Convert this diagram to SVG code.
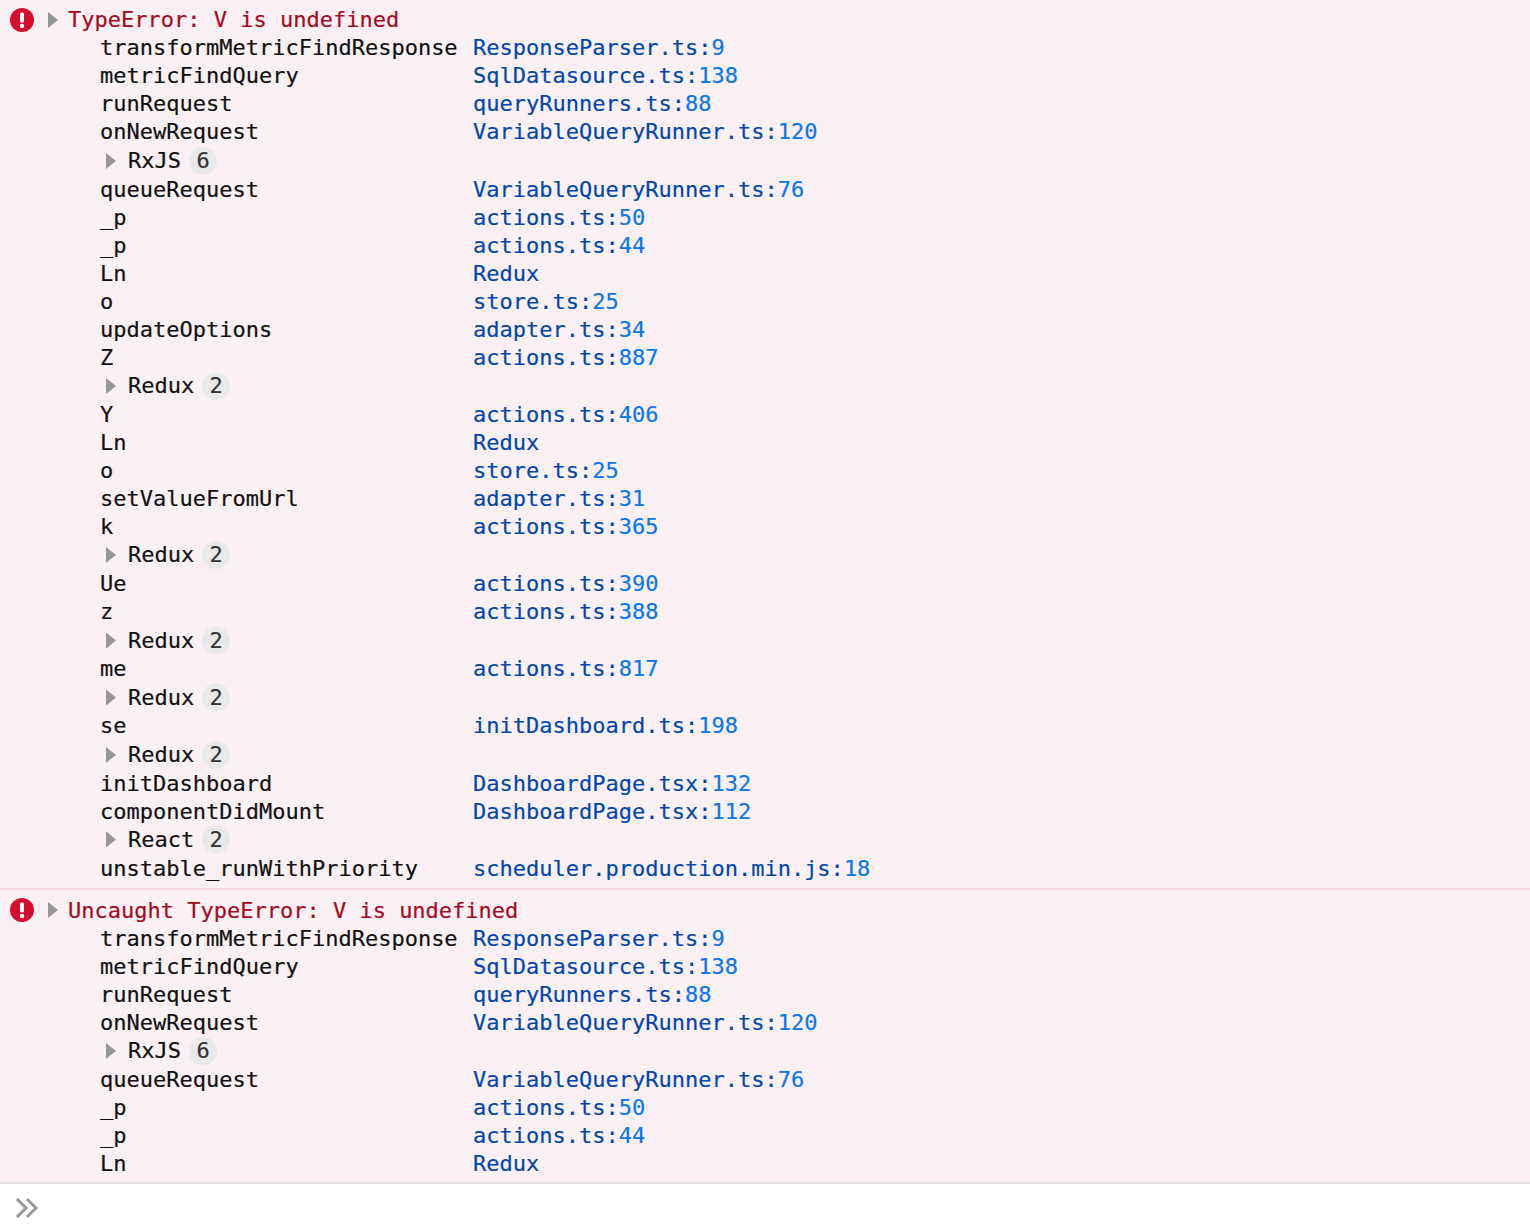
<svg xmlns="http://www.w3.org/2000/svg" width="1530" height="1224" viewBox="0 0 1530 1224">
<style>
text{font-family:"DejaVu Sans Mono","Liberation Mono",monospace;font-size:22px;fill:#111;stroke:#111;stroke-width:.2px}
.e{fill:#a50a22;stroke:#a50a22}
.f{fill:#0047ab;stroke:#0047ab}
.n{fill:#0a78e6;stroke:#0a78e6}
.b{fill:#333;stroke:#333;text-anchor:middle}
.p{fill:#e9e9eb}
.t{fill:#969696}
.i{fill:#d60d2f}
</style>
<defs>
<g id="err"><circle cx="22" cy="0" r="12" class="i"/><rect x="20" y="-7.500" width="4" height="10" rx="1.500" fill="#fff"/><circle cx="22" cy="6" r="2.200" fill="#fff"/><path d="M48-8 L58 0 L48 8Z" class="t"/></g>
<path id="tri" d="M106-8 L116 0 L106 8Z" class="t"/>
</defs>
<rect width="1530" height="1183" fill="#fbf0f4"/>
<rect y="888" width="1530" height="2" fill="#f9d8e0"/>
<rect y="1182" width="1530" height="2" fill="#e2e2e2"/>
<rect y="1184" width="1530" height="40" fill="#fff"/>
<path d="M17 1199 L26 1208 L17 1217 M27 1199 L36 1208 L27 1217" fill="none" stroke="#999" stroke-width="3"/>
<g id="error-1">
<use href="#err" y="20"/>
<text class="e" x="68" y="27">TypeError: V is undefined</text>
<text x="100" y="55">transformMetricFindResponse</text><text x="473" y="55"><tspan class="f">ResponseParser.ts:</tspan><tspan class="n">9</tspan></text>
<text x="100" y="83">metricFindQuery</text><text x="473" y="83"><tspan class="f">SqlDatasource.ts:</tspan><tspan class="n">138</tspan></text>
<text x="100" y="111">runRequest</text><text x="473" y="111"><tspan class="f">queryRunners.ts:</tspan><tspan class="n">88</tspan></text>
<text x="100" y="139">onNewRequest</text><text x="473" y="139"><tspan class="f">VariableQueryRunner.ts:</tspan><tspan class="n">120</tspan></text>
<use href="#tri" y="161"/><text x="128" y="168">RxJS</text><circle class="p" cx="203" cy="161" r="14"/><text class="b" x="203" y="168">6</text>
<text x="100" y="197">queueRequest</text><text x="473" y="197"><tspan class="f">VariableQueryRunner.ts:</tspan><tspan class="n">76</tspan></text>
<text x="100" y="225">_p</text><text x="473" y="225"><tspan class="f">actions.ts:</tspan><tspan class="n">50</tspan></text>
<text x="100" y="253">_p</text><text x="473" y="253"><tspan class="f">actions.ts:</tspan><tspan class="n">44</tspan></text>
<text x="100" y="281">Ln</text><text x="473" y="281"><tspan class="f">Redux</tspan></text>
<text x="100" y="309">o</text><text x="473" y="309"><tspan class="f">store.ts:</tspan><tspan class="n">25</tspan></text>
<text x="100" y="337">updateOptions</text><text x="473" y="337"><tspan class="f">adapter.ts:</tspan><tspan class="n">34</tspan></text>
<text x="100" y="365">Z</text><text x="473" y="365"><tspan class="f">actions.ts:</tspan><tspan class="n">887</tspan></text>
<use href="#tri" y="386"/><text x="128" y="393">Redux</text><circle class="p" cx="216" cy="386" r="14"/><text class="b" x="216" y="393">2</text>
<text x="100" y="422">Y</text><text x="473" y="422"><tspan class="f">actions.ts:</tspan><tspan class="n">406</tspan></text>
<text x="100" y="450">Ln</text><text x="473" y="450"><tspan class="f">Redux</tspan></text>
<text x="100" y="478">o</text><text x="473" y="478"><tspan class="f">store.ts:</tspan><tspan class="n">25</tspan></text>
<text x="100" y="506">setValueFromUrl</text><text x="473" y="506"><tspan class="f">adapter.ts:</tspan><tspan class="n">31</tspan></text>
<text x="100" y="534">k</text><text x="473" y="534"><tspan class="f">actions.ts:</tspan><tspan class="n">365</tspan></text>
<use href="#tri" y="555"/><text x="128" y="562">Redux</text><circle class="p" cx="216" cy="555" r="14"/><text class="b" x="216" y="562">2</text>
<text x="100" y="591">Ue</text><text x="473" y="591"><tspan class="f">actions.ts:</tspan><tspan class="n">390</tspan></text>
<text x="100" y="619">z</text><text x="473" y="619"><tspan class="f">actions.ts:</tspan><tspan class="n">388</tspan></text>
<use href="#tri" y="640.500"/><text x="128" y="648">Redux</text><circle class="p" cx="216" cy="640.500" r="14"/><text class="b" x="216" y="648">2</text>
<text x="100" y="676">me</text><text x="473" y="676"><tspan class="f">actions.ts:</tspan><tspan class="n">817</tspan></text>
<use href="#tri" y="697.500"/><text x="128" y="705">Redux</text><circle class="p" cx="216" cy="697.500" r="14"/><text class="b" x="216" y="705">2</text>
<text x="100" y="733">se</text><text x="473" y="733"><tspan class="f">initDashboard.ts:</tspan><tspan class="n">198</tspan></text>
<use href="#tri" y="755"/><text x="128" y="762">Redux</text><circle class="p" cx="216" cy="755" r="14"/><text class="b" x="216" y="762">2</text>
<text x="100" y="791">initDashboard</text><text x="473" y="791"><tspan class="f">DashboardPage.tsx:</tspan><tspan class="n">132</tspan></text>
<text x="100" y="819">componentDidMount</text><text x="473" y="819"><tspan class="f">DashboardPage.tsx:</tspan><tspan class="n">112</tspan></text>
<use href="#tri" y="839.500"/><text x="128" y="847">React</text><circle class="p" cx="216" cy="839.500" r="14"/><text class="b" x="216" y="847">2</text>
<text x="100" y="876">unstable_runWithPriority</text><text x="473" y="876"><tspan class="f">scheduler.production.min.js:</tspan><tspan class="n">18</tspan></text>
</g>
<g id="error-2">
<use href="#err" y="910"/>
<text class="e" x="68" y="918">Uncaught TypeError: V is undefined</text>
<text x="100" y="946">transformMetricFindResponse</text><text x="473" y="946"><tspan class="f">ResponseParser.ts:</tspan><tspan class="n">9</tspan></text>
<text x="100" y="974">metricFindQuery</text><text x="473" y="974"><tspan class="f">SqlDatasource.ts:</tspan><tspan class="n">138</tspan></text>
<text x="100" y="1002">runRequest</text><text x="473" y="1002"><tspan class="f">queryRunners.ts:</tspan><tspan class="n">88</tspan></text>
<text x="100" y="1030">onNewRequest</text><text x="473" y="1030"><tspan class="f">VariableQueryRunner.ts:</tspan><tspan class="n">120</tspan></text>
<use href="#tri" y="1051"/><text x="128" y="1058">RxJS</text><circle class="p" cx="203" cy="1051" r="14"/><text class="b" x="203" y="1058">6</text>
<text x="100" y="1087">queueRequest</text><text x="473" y="1087"><tspan class="f">VariableQueryRunner.ts:</tspan><tspan class="n">76</tspan></text>
<text x="100" y="1115">_p</text><text x="473" y="1115"><tspan class="f">actions.ts:</tspan><tspan class="n">50</tspan></text>
<text x="100" y="1143">_p</text><text x="473" y="1143"><tspan class="f">actions.ts:</tspan><tspan class="n">44</tspan></text>
<text x="100" y="1171">Ln</text><text x="473" y="1171"><tspan class="f">Redux</tspan></text>
</g>
</svg>
